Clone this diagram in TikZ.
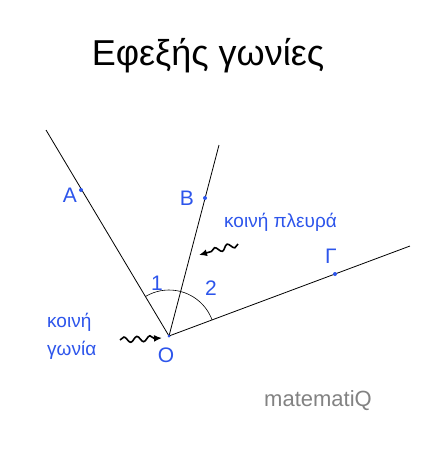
\documentclass[tikz,border=0pt]{standalone}
\usepackage{fontspec}
\setmainfont{Liberation Sans}
\usetikzlibrary{decorations.pathmorphing,arrows.meta,calc}
\definecolor{lblblue}{RGB}{45,85,235}
\definecolor{markgray}{RGB}{130,130,130}
\begin{document}
\begin{tikzpicture}[x=1pt,y=-1pt,
  ray/.style={line width=0.8pt},
  lbl/.style={text=lblblue,font=\fontsize{21}{24}\selectfont,inner sep=0pt},
  note/.style={text=lblblue,font=\fontsize{19}{28}\selectfont,inner sep=0pt,align=left},
  dotpt/.style={circle,fill=lblblue,inner sep=0pt,minimum size=4pt},
  squig/.style={line width=1.6pt,-{Latex[length=8pt,width=7pt]},decorate,
    decoration={snake,amplitude=2.8pt,segment length=13pt,post length=7pt}}]
\useasboundingbox (0,0) rectangle (425,459);
\coordinate (O) at (169,336);
\coordinate (Aend) at (46,130);
\coordinate (Bend) at (219,145);
\coordinate (Gend) at (410,246);
\draw[ray] (O) -- (Aend);
\draw[ray] (O) -- (Bend);
\draw[ray] (O) -- (Gend);
\draw[line width=0.6pt] ($(O)+(-20.5:46)$) arc[start angle=-20.5,end angle=-120.8,radius=46];
\node[dotpt] (A) at (81,190) {};
\node[dotpt] (B) at (205,198) {};
\node[dotpt] (G) at (335,274) {};
\node[dotpt,minimum size=3pt] (Od) at (O) {};
\node[lbl] (Al) at (70,195) {A};
\node[lbl] (Bl) at (187,198) {B};
\node[lbl] (Gl) at (331,256) {Γ};
\node[lbl] (Ol) at (166,355) {O};
\node[lbl] (n1) at (157,283) {1};
\node[lbl] (n2) at (211,288) {2};
\node[font=\fontsize{36}{40}\selectfont,inner sep=0pt] (title) at (208,56) {Εφεξής γωνίες};
\node[note,anchor=west] (side) at (224,222) {κοινή πλευρά};
\node[note,anchor=west] (vert) at (47,336) {κοινή\\γωνία};
\node[text=markgray,font=\fontsize{22}{26}\selectfont,inner sep=0pt] (mq) at (318,401) {matematiQ};
\coordinate (s1) at (238,244);
\coordinate (s1e) at (199,255);
\coordinate (s2) at (120,340);
\coordinate (s2e) at (162,338);
\draw[squig] (s1) -- (s1e);
\draw[squig] (s2) -- (s2e);
\end{tikzpicture}
\end{document}
